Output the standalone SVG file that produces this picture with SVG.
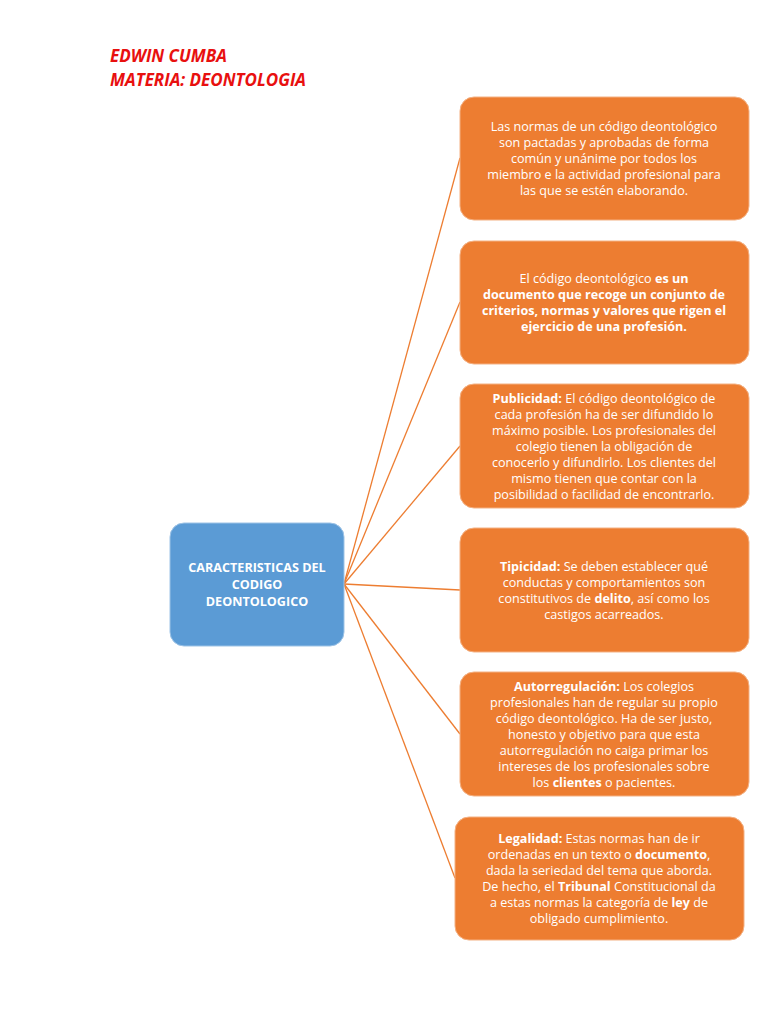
<svg xmlns="http://www.w3.org/2000/svg" width="768" height="1024" viewBox="0 0 768 1024">
<style>
.t{font-family:"Open Sans","Noto Sans",sans-serif;font-size:12.6px;fill:#fff;text-anchor:middle}
.b{font-weight:bold}
.box{fill:#ED7D31;stroke:#F4B183;stroke-width:1}
.title{font-family:"Open Sans","Noto Sans",sans-serif;font-size:17px;font-weight:bold;font-style:italic;fill:#E8100F}
</style>
<rect width="768" height="1024" fill="#fff"/>
<text class="title" x="110" y="62">EDWIN CUMBA</text>
<text class="title" x="110" y="86">MATERIA: DEONTOLOGIA</text>
<g id="connectors" stroke="#ED7D31" stroke-width="1.3" fill="none">
<line x1="344" y1="584" x2="460" y2="158"/>
<line x1="344" y1="584" x2="460" y2="302"/>
<line x1="344" y1="584" x2="460" y2="446"/>
<line x1="344" y1="584" x2="460" y2="590"/>
<line x1="344" y1="584" x2="460" y2="734"/>
<line x1="344" y1="584" x2="455" y2="878"/>
</g>
<g id="center">
<rect x="170" y="523" width="174" height="123" rx="14" fill="#5B9BD5" stroke="#9DC3E6"/>
<text class="t b" x="257" y="572">CARACTERISTICAS DEL</text>
<text class="t b" x="257" y="589">CODIGO</text>
<text class="t b" x="257" y="606">DEONTOLOGICO</text>
</g>
<g id="n1">
<rect class="box" x="460" y="97" width="289" height="123" rx="14"/>
<text class="t" x="604" y="131">Las normas de un código deontológico</text>
<text class="t" x="604" y="147">son pactadas y aprobadas de forma</text>
<text class="t" x="604" y="163">común y unánime por todos los</text>
<text class="t" x="604" y="179">miembro e la actividad profesional para</text>
<text class="t" x="604" y="195">las que se estén elaborando.</text>
</g>
<g id="n2">
<rect class="box" x="460" y="241" width="289" height="123" rx="14"/>
<text class="t" x="604" y="283">El código deontológico <tspan class="b">es un</tspan></text>
<text class="t b" x="604" y="299">documento que recoge un conjunto de</text>
<text class="t b" x="604" y="315">criterios, normas y valores que rigen el</text>
<text class="t b" x="604" y="331">ejercicio de una profesión.</text>
</g>
<g id="n3">
<rect class="box" x="460" y="384" width="289" height="124" rx="14"/>
<text class="t" x="604" y="403"><tspan class="b">Publicidad:</tspan> El código deontológico de</text>
<text class="t" x="604" y="419">cada profesión ha de ser difundido lo</text>
<text class="t" x="604" y="435">máximo posible. Los profesionales del</text>
<text class="t" x="604" y="451">colegio tienen la obligación de</text>
<text class="t" x="604" y="467">conocerlo y difundirlo. Los clientes del</text>
<text class="t" x="604" y="483">mismo tienen que contar con la</text>
<text class="t" x="604" y="499">posibilidad o facilidad de encontrarlo.</text>
</g>
<g id="n4">
<rect class="box" x="460" y="528" width="289" height="124" rx="14"/>
<text class="t" x="604" y="571"><tspan class="b">Tipicidad:</tspan> Se deben establecer qué</text>
<text class="t" x="604" y="587">conductas y comportamientos son</text>
<text class="t" x="604" y="603">constitutivos de <tspan class="b">delito</tspan>, así como los</text>
<text class="t" x="604" y="619">castigos acarreados.</text>
</g>
<g id="n5">
<rect class="box" x="460" y="672" width="289" height="124" rx="14"/>
<text class="t" x="604" y="691"><tspan class="b">Autorregulación:</tspan> Los colegios</text>
<text class="t" x="604" y="707">profesionales han de regular su propio</text>
<text class="t" x="604" y="723">código deontológico. Ha de ser justo,</text>
<text class="t" x="604" y="739">honesto y objetivo para que esta</text>
<text class="t" x="604" y="755">autorregulación no caiga primar los</text>
<text class="t" x="604" y="771">intereses de los profesionales sobre</text>
<text class="t" x="604" y="787">los <tspan class="b">clientes</tspan> o pacientes.</text>
</g>
<g id="n6">
<rect class="box" x="455" y="817" width="289" height="123" rx="14"/>
<text class="t" x="599" y="843"><tspan class="b">Legalidad:</tspan> Estas normas han de ir</text>
<text class="t" x="599" y="859">ordenadas en un texto o <tspan class="b">documento</tspan>,</text>
<text class="t" x="599" y="875">dada la seriedad del tema que aborda.</text>
<text class="t" x="599" y="891">De hecho, el <tspan class="b">Tribunal</tspan> Constitucional da</text>
<text class="t" x="599" y="907">a estas normas la categoría de <tspan class="b">ley</tspan> de</text>
<text class="t" x="599" y="923">obligado cumplimiento.</text>
</g>
</svg>
